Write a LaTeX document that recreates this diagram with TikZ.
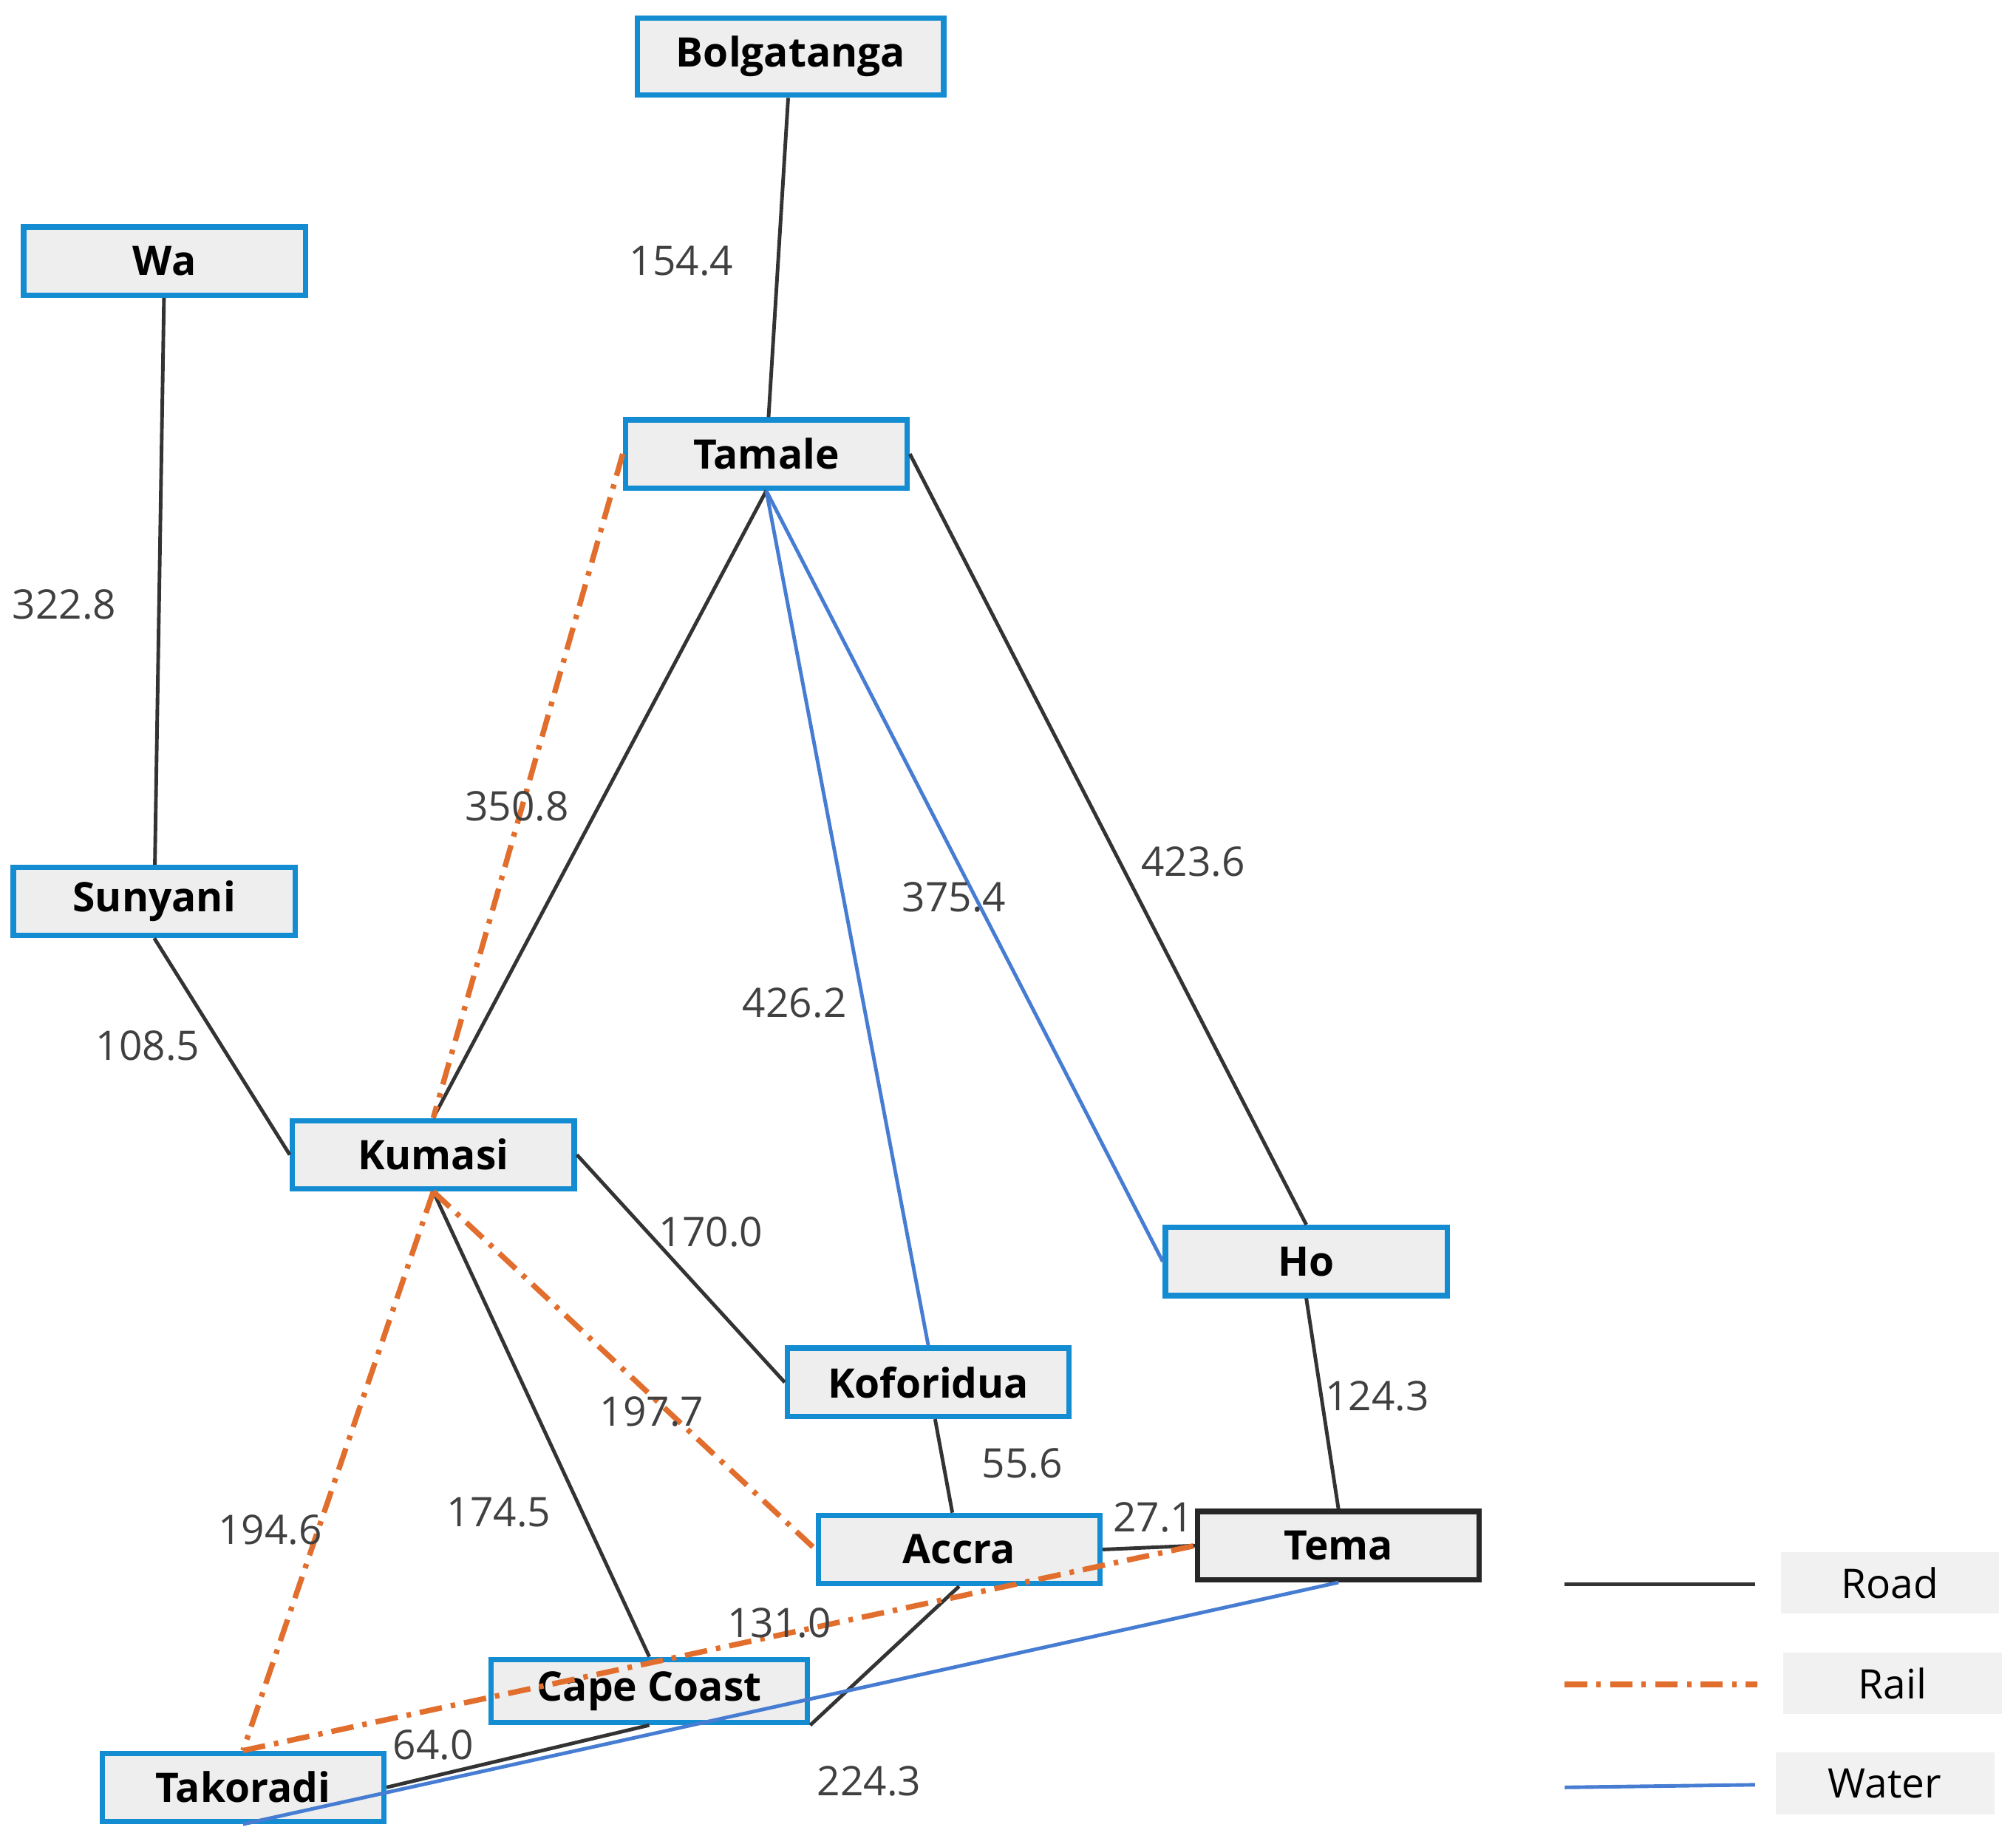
\documentclass[tikz,border=0pt]{standalone}
\usepackage{fontspec}
\setmainfont{Open Sans}
\usetikzlibrary{positioning,calc}
\definecolor{boxblue}{RGB}{20,140,210}
\definecolor{boxfill}{RGB}{238,238,238}
\definecolor{railorange}{RGB}{225,110,45}
\definecolor{waterblue}{RGB}{70,125,210}
\begin{document}
\begin{tikzpicture}
[x=0.01cm,y=-0.01cm,
city/.style={draw=boxblue,line width=1.2pt,fill=boxfill,minimum width=2.19cm,minimum height=0.53cm,inner sep=1pt,font=\fontsize{9}{10}\selectfont\bfseries},
key/.style={fill=boxfill!80!white,minimum width=1.7cm,minimum height=0.48cm,font=\fontsize{9}{10}\selectfont},
dist/.style={font=\fontsize{9}{10}\selectfont,text=black!75,inner sep=1pt},
road/.style={black!80,line width=0.8pt},
rail/.style={railorange,line width=1.2pt,dash pattern=on 5pt off 2pt on 1pt off 2pt},
water/.style={waterblue,line width=0.8pt}]
\useasboundingbox (0,0) rectangle (1568,1436);
%%
% cities
%%
\node[city,minimum width=2.38cm,minimum height=0.6cm] (bolga) at (615,44) {Bolgatanga};
\node[city] (wa) at (128,203) {Wa};
\node[city] (tamale) at (596,353) {Tamale};
\node[city] (sunyani) at (120,701) {Sunyani};
\node[city] (kumasi) at (337,898) {Kumasi};
\node[city] (ho) at (1016,981) {Ho};
\node[city] (koforidua) at (722,1075) {Koforidua};
\node[city] (accra) at (746,1205) {Accra};
\node[city,draw=black!85] (tema) at (1041,1202) {Tema};
\node[city,minimum width=2.46cm,minimum height=0.49cm] (cape) at (505,1315) {Cape Coast};
\node[city] (takoradi) at (189,1390) {Takoradi};
%%
% road
%%
\draw[road] (bolga) -- (tamale);
\draw[road] (wa) -- (sunyani);
\draw[road] (sunyani.south) -- (kumasi.west);
\draw[road] (tamale.south) -- (kumasi.north);
\draw[road] (tamale.east) -- (ho.north);
\draw[road] (kumasi.east) -- (koforidua.west);
\draw[road] (kumasi.south) -- (cape.north);
\draw[road] (koforidua) -- (accra);
\draw[road] (accra.east) -- (tema.west);
\draw[road] (ho.south) -- (tema.north);
\draw[road] (accra.south) -- (cape.south east);
\draw[road] (cape.south) -- (takoradi.east);
%%
% rail
%%
\draw[rail] (tamale.west) -- (kumasi.north);
\draw[rail] (kumasi.south) -- (accra.west);
\draw[rail] (kumasi.south) -- (takoradi.north);
\draw[rail] (takoradi.north) -- (tema.west);
%%
% water
%%
\draw[water] (tamale.south) -- (koforidua.north);
\draw[water] (tamale.south) -- (ho.west);
\draw[water] (tema.south) -- (takoradi.south);
%%
% distances
%%
\node[dist] (d1) at (530,203) {154.4};
\node[dist] (d2) at (50,470) {322.8};
\node[dist] (d3) at (115,813) {108.5};
\node[dist] (d4) at (402,627) {350.8};
\node[dist] (d5) at (928,670) {423.6};
\node[dist] (d6) at (742,698) {375.4};
\node[dist] (d7) at (618,780) {426.2};
\node[dist] (d8) at (553,958) {170.0};
\node[dist] (d9) at (507,1098) {197.7};
\node[dist] (d10) at (795,1138) {55.6};
\node[dist] (d11) at (1071,1086) {124.3};
\node[dist] (d12) at (897,1180) {27.1};
\node[dist] (d13) at (388,1176) {174.5};
\node[dist] (d14) at (210,1190) {194.6};
\node[dist] (d15) at (606,1262) {131.0};
\node[dist] (d16) at (337,1357) {64.0};
\node[dist] (d17) at (676,1385) {224.3};
%%
% legend
%%
\node[key] (kroad) at (1470,1231) {Road};
\node[key] (krail) at (1472,1309) {Rail};
\node[key] (kwater) at (1466,1387) {Water};
\coordinate (lroad) at (1217,1232);
\coordinate (lrail) at (1217,1310);
\coordinate (lwater) at (1217,1390);
\draw[road] (lroad) -- ++(148,0);
\draw[rail] (lrail) -- ++(150,0);
\draw[water] (lwater) -- ++(148,-2);
\end{tikzpicture}
\end{document}
